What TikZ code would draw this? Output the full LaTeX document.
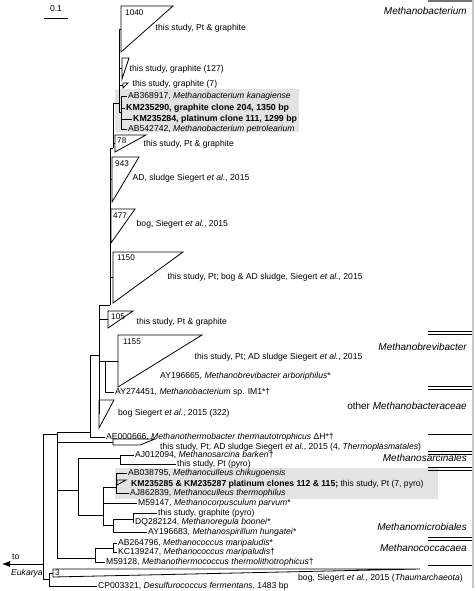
\documentclass[tikz,border=0pt]{standalone}
\usepackage{fontspec}
\setmainfont{Liberation Sans}
\usetikzlibrary{arrows.meta}

% collapsed group: name, x, top, width, height
\newcommand{\grp}[5]{%
  \draw[clade] (#2,#3) -- ++(#4,0) -- (#2,#3+#5) -- cycle;
  \coordinate (#1) at (#2,#3+#5/2);}

\begin{document}
\begin{tikzpicture}[x=1pt, y=-1pt,
    font=\fontsize{8.6}{10}\selectfont,
    br/.style={line width=0.8pt},
    clade/.style={line width=0.8pt, line join=miter},
    leaf/.style={anchor=west, inner sep=1.5pt},
    bleaf/.style={leaf, font=\fontsize{8.8}{10}\selectfont\bfseries},
    cnt/.style={anchor=north west, inner sep=0pt, font=\fontsize{8.2}{10}\selectfont},
    grplbl/.style={anchor=east, inner sep=0pt, font=\fontsize{10}{12}\selectfont\itshape},
    sep/.style={line width=0.8pt}]
  \useasboundingbox (0,0) rectangle (474,591);

  % highlighted clones
  \fill[black!11] (115,89) rectangle (299,132);
  \fill[black!11] (115,468) rectangle (438,499);

  % scale bar
  \coordinate (sb1) at (44,18);
  \coordinate (sb2) at (68,18);
  \draw[br] (sb1) -- (sb2) node[midway, above=3pt] (sbl) {0.1};

  % Methanobacterium
  \grp{g1040}{121}{6}{52}{46}
  \node[cnt] (c1040) at (125,10) {1040};
  \node[leaf] (l1040) at (154,28) {this study, Pt \& graphite};
  \grp{g127}{122}{58}{7}{21}
  \node[leaf] (l127) at (128,69) {this study, graphite (127)};
  \grp{g7}{123}{83}{5}{5}
  \node[leaf] (l7) at (131,84) {this study, graphite (7)};
  \node[leaf] (ab368917) at (126.5,96) {AB368917, \textit{Methanobacterium kanagiense}};
  \node[bleaf] (km235290) at (124.5,108) {KM235290, graphite clone 204, 1350 bp};
  \node[bleaf] (km235284) at (131.5,119) {KM235284, platinum clone 111, 1299 bp};
  \node[leaf] (ab542742) at (126.5,129) {AB542742, \textit{Methanobacterium petrolearium}};
  \grp{g78}{115}{135}{31}{17}
  \node[cnt] (c78) at (117,138) {78};
  \node[leaf] (l78) at (142,144) {this study, Pt \& graphite};
  \grp{g943}{112}{157}{27}{45}
  \node[cnt] (c943) at (115,161) {943};
  \node[leaf] (l943) at (131,178) {AD, sludge Siegert \textit{et al.}, 2015};
  \grp{g477}{111}{209}{24}{34}
  \node[cnt] (c477) at (113,213) {477};
  \node[leaf] (l477) at (135,224) {bog, Siegert \textit{et al.}, 2015};
  \grp{g1150}{113}{252}{70}{51}
  \node[cnt] (c1150) at (117,255) {1150};
  \node[leaf] (l1150) at (166,277) {this study, Pt; bog \& AD sludge, Siegert \textit{et al.}, 2015};
  \grp{g105}{108}{311}{25}{17}
  \node[cnt] (c105) at (111,314) {105};
  \node[leaf] (l105) at (135,322) {this study, Pt \& graphite};

  % Methanobrevibacter and other Methanobacteraceae
  \grp{g1155}{118}{335}{84}{52}
  \node[cnt] (c1155) at (123,339) {1155};
  \node[leaf] (l1155) at (193,357) {this study, Pt; AD sludge Siegert \textit{et al.}, 2015};
  \node[leaf] (ay196665) at (158.5,376) {AY196665, \textit{Methanobrevibacter arboriphilus}*};
  \node[leaf] (ay274451) at (113.5,392) {AY274451, \textit{Methanobacterium} sp. IM1*†};
  \grp{g322}{99}{400}{15}{28}
  \node[leaf] (l322) at (116.5,413) {bog Siegert \textit{et al.}, 2015 (322)};
  \node[leaf] (ae000666) at (104.5,437) {AE000666, \textit{Methanothermobacter thermautotrophicus} ΔH*†};

  % Thermoplasmatales
  \draw[clade] (113,439) -- (155,439) -- (140,445) -- (113,445) -- cycle;
  \coordinate (gthermo) at (113,442);
  \node[leaf] (lthermo) at (158.5,447) {this study, Pt; AD sludge Siegert \textit{et al.}, 2015 (4, \textit{Thermoplasmatales})};

  % Methanosarcinales, Methanomicrobiales
  \node[leaf] (aj012094) at (133.5,455) {AJ012094, \textit{Methanosarcina barkeri}†};
  \node[leaf] (lpyropt) at (175.5,464) {this study, Pt (pyro)};
  \node[leaf] (ab038795) at (126.5,473) {AB038795, \textit{Methanoculleus chikugoensis}};
  \draw[clade] (117,480) -- ++(9,0) -- (117,485) -- cycle;
  \coordinate (gcul) at (117,482.5);
  \node[leaf] (km235285) at (129.5,484) {\textbf{KM235285 \& KM235287 platinum clones 112 \& 115;} this study, Pt (7, pyro)};
  \node[leaf] (aj862839) at (128.5,493) {AJ862839, \textit{Methanoculleus thermophilus}};
  \node[leaf] (m59147) at (136.5,503) {M59147, \textit{Methanocorpusculum parvum}*};
  \node[leaf] (lpyrogr) at (156.5,513) {this study, graphite (pyro)};
  \node[leaf] (dq282124) at (133.5,522) {DQ282124, \textit{Methanoregula boonei}*};
  \node[leaf] (ay196683) at (146.5,532) {AY196683, \textit{Methanospirillum hungatei}*};

  % Methanococcales
  \node[leaf] (ab264796) at (116.5,543) {AB264796, \textit{Methanococcus maripaludis}*};
  \node[leaf] (kc139247) at (116.5,552) {KC139247, \textit{Methanococcus maripaludis}†};
  \node[leaf] (m59128) at (104.5,562) {M59128, \textit{Methanothermococcus thermolithotrophicus}†};

  % outgroups
  \grp{gthaum}{53}{569}{367}{8}
  \node[cnt] (c3) at (55,569.5) {3};
  \node[leaf] (lthaum) at (296.5,578) {bog, Siegert \textit{et al.}, 2015 (\textit{Thaumarchaeota})};
  \node[leaf] (cp003321) at (96.5,586) {CP003321, \textit{Desulfurococcus fermentans}, 1483 bp};
  \node[anchor=west, inner sep=0pt] (to) at (12,557) {to};
  \node[anchor=west, inner sep=0pt, font=\fontsize{8.6}{10}\selectfont\itshape] (eukarya) at (11,573) {Eukarya};

  % internal nodes
  \coordinate (s1b) at (121,112);
  \coordinate (s1) at (119,103);
  \coordinate (s2) at (113,148);
  \coordinate (s3) at (110,305);
  \coordinate (m1) at (105,361);
  \coordinate (p1) at (99,355);
  \coordinate (c) at (90,432);
  \coordinate (b) at (57,434);
  \coordinate (e) at (78,490);
  \coordinate (f) at (120,458);
  \coordinate (g) at (103,515);
  \coordinate (h) at (116,487);
  \coordinate (i) at (113,525);
  \coordinate (j) at (133,519);
  \coordinate (k) at (95,558);
  \coordinate (l) at (113,548);
  \coordinate (t) at (49,579);
  \coordinate (root) at (43,564);
  \coordinate (euk) at (2,564);

  % branches
  \draw[br] (s1b) |- (ab368917.west) (s1b) |- (km235290.west) (s1b) |- (km235284.west) (s1b) |- (ab542742.west);
  \draw[br] (s1) |- (g1040) (s1) |- (g127) (s1) |- (g7) (s1) |- (s1b);
  \draw[br] (s2) |- (s1) (s2) |- (g78);
  \draw[br] (s3) |- (s2) (s3) |- (g943) (s3) |- (g477) (s3) |- (g1150);
  \draw[br] (m1) |- (g1155) (m1) |- (ay274451.west);
  \draw[br] (p1) |- (s3) (p1) |- (g105) (p1) |- (m1) (p1) |- (g322);
  \draw[br] (c) |- (p1) (c) |- (ae000666.west);
  \draw[br] (f) |- (aj012094.west) (f) |- (lpyropt.west);
  \draw[br] (h) |- (ab038795.west) (h) |- (gcul) (h) |- (aj862839.west);
  \draw[br] (j) |- (lpyrogr.west) (j) |- (dq282124.west);
  \draw[br] (i) |- (j) (i) |- (ay196683.west);
  \draw[br] (g) |- (h) (g) |- (m59147.west) (g) |- (i);
  \draw[br] (e) |- (f) (e) |- (g);
  \draw[br] (l) |- (ab264796.west) (l) |- (kc139247.west);
  \draw[br] (k) |- (l) (k) |- (m59128.west);
  \draw[br] (b) |- (c) (b) |- (gthermo) (b) |- (e) (b) |- (k);
  \draw[br] (t) |- (gthaum) (t) |- (cp003321.west);
  \draw[br] (root) |- (b) (root) |- (t);
  \draw[br, -{Latex[length=8pt, width=6pt]}] (root) -- (euk);

  % groups on the right
  \draw[line width=2pt, black!55] (428,1) -- (474,1);
  \draw[line width=2pt, black!22] (473,0) -- (473,588);
  \node[grplbl] (mbact) at (467,11) {Methanobacterium};
  \node[grplbl] (mbrev) at (467,347) {Methanobrevibacter};
  \node[grplbl] (mother) at (467,406) {\upshape other \itshape Methanobacteraceae};
  \node[grplbl] (msarc) at (467,458) {Methanosarcinales};
  \node[grplbl] (mmicr) at (467,527) {Methanomicrobiales};
  \node[grplbl] (mcocc) at (467,548) {Methanococcacaea};
  \foreach \y in {331,334,386,389,434,451,454,467,470,537,540,565}
    \draw[sep] (428,\y) -- (472,\y);
\end{tikzpicture}
\end{document}
